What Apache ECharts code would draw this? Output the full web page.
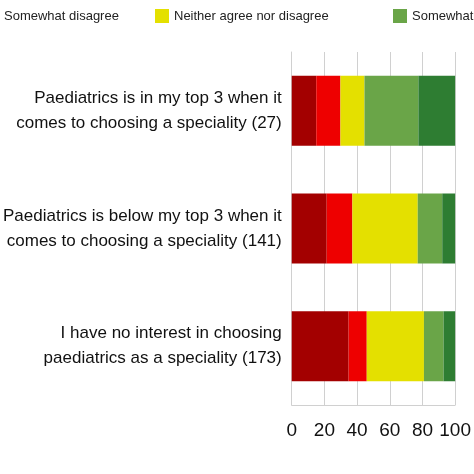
<!DOCTYPE html><html><head><meta charset="utf-8"><script src="https://cdn.jsdelivr.net/npm/echarts@6/dist/echarts.min.js"></script></head><body style="margin:0;overflow:hidden"><div id="c" style="width:474px;height:474px"></div><script>
const categories=["Paediatrics is in my top 3 when it\ncomes to choosing a speciality (27)","Paediatrics is below my top 3 when it\ncomes to choosing a speciality (141)","I have no interest in choosing\npaediatrics as a speciality (173)"];
const seriesNames=["Strongly disagree","Somewhat disagree","Neither agree nor disagree","Somewhat agree","Strongly agree"];
const stronglyDisagree=[15,21.4,34.8];
const somewhatDisagree=[14.8,15.7,11.1];
const neither=[14.7,40,35];
const somewhatAgree=[33,15,12];
const stronglyAgree=[22.5,7.9,7.1];
const xTicks=[0,20,40,60,80,100];
const colors=["#a30000","#ee0000","#e4e000","#6aa548","#2e7d32"];
const vals=[stronglyDisagree,somewhatDisagree,neither,somewhatAgree,stronglyAgree];
const legendLeft=[-200,-20,150,388,620];
const font="Liberation Sans, Arial, sans-serif";
const ch=echarts.init(document.getElementById('c'));
ch.setOption({
animation:false,
color:colors,
textStyle:{fontFamily:font},
legend:seriesNames.map((n,i)=>({data:[n],left:legendLeft[i],top:4,itemWidth:14,itemHeight:14,itemGap:5,icon:'rect',textStyle:{fontSize:13,color:'#222',fontFamily:font}})),
grid:{left:210,width:420,top:52,bottom:69,containLabel:false},
xAxis:{type:'value',min:0,max:100,interval:20,name:'%',nameLocation:'start',nameGap:-222,nameTextStyle:{fontSize:19,fontWeight:'bold',color:'#111',verticalAlign:'top',padding:[34,0,0,0]},
 axisLabel:{fontSize:19,color:'#111',margin:16,formatter:v=>xTicks.includes(v)?String(v):''},
 splitLine:{lineStyle:{color:'#d0d0d0'}},axisLine:{show:true,lineStyle:{color:'#d0d0d0'}},axisTick:{show:false}},
yAxis:{type:'category',data:categories,inverse:true,axisTick:{show:false},axisLine:{show:true,lineStyle:{color:'#d0d0d0'}},
 axisLabel:{fontSize:17,color:'#111',lineHeight:25,align:'right',margin:10}},
series:seriesNames.map((n,i)=>({name:n,type:'bar',stack:'a',data:vals[i],barWidth:70,itemStyle:{color:colors[i]}}))
});
</script></body></html>
